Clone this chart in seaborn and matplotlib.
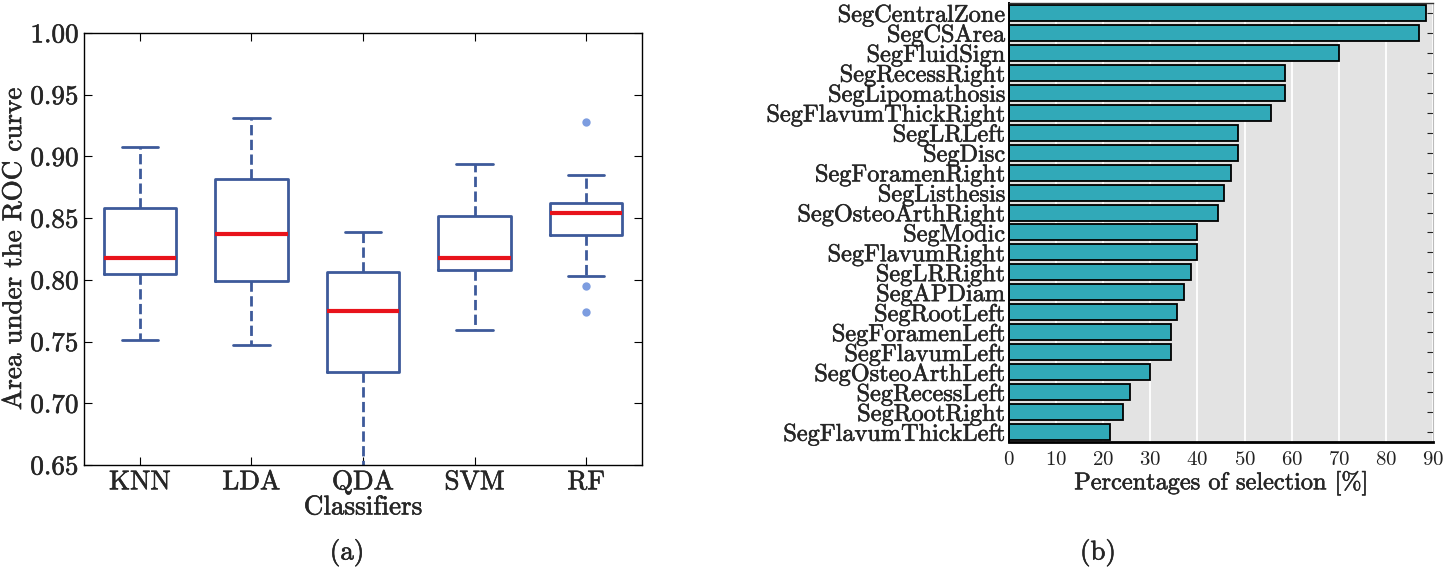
import matplotlib
matplotlib.use("Agg")
import matplotlib.pyplot as plt
import matplotlib.patheffects as pe
import seaborn as sns
import pandas as pd
import numpy as np

# ------------------------------------------------------------------
# (a) AUC values per classifier
# ------------------------------------------------------------------
classifiers = ["KNN", "LDA", "QDA", "SVM", "RF"]
knn_auc = [0.751, 0.780, 0.805, 0.812, 0.818, 0.835, 0.858, 0.880, 0.908]
lda_auc = [0.747, 0.775, 0.799, 0.820, 0.837, 0.860, 0.882, 0.905, 0.931]
qda_auc = [0.630, 0.690, 0.725, 0.750, 0.775, 0.790, 0.806, 0.820, 0.839]
svm_auc = [0.759, 0.785, 0.808, 0.812, 0.818, 0.835, 0.852, 0.870, 0.894]
rf_auc = [0.774, 0.795, 0.803, 0.836, 0.842, 0.848, 0.854, 0.857, 0.860,
          0.862, 0.870, 0.885, 0.928]

# ------------------------------------------------------------------
# (b) selection percentages per feature
# ------------------------------------------------------------------
features = ["SegCentralZone", "SegCSArea", "SegFluidSign", "SegRecessRight",
            "SegLipomathosis", "SegFlavumThickRight", "SegLRLeft", "SegDisc",
            "SegForamenRight", "SegListhesis", "SegOsteoArthRight", "SegModic",
            "SegFlavumRight", "SegLRRight", "SegAPDiam", "SegRootLeft",
            "SegForamenLeft", "SegFlavumLeft", "SegOsteoArthLeft",
            "SegRecessLeft", "SegRootRight", "SegFlavumThickLeft"]
selection_pct = [88.6, 87.1, 70.0, 58.6, 58.6, 55.7, 48.6, 48.6, 47.1, 45.7,
                 44.3, 40.0, 40.0, 38.6, 37.1, 35.7, 34.3, 34.3, 30.0, 25.7,
                 24.3, 21.4]

auc_df = pd.DataFrame({
    "clf": sum([[c] * len(v) for c, v in zip(classifiers, [knn_auc, lda_auc, qda_auc, svm_auc, rf_auc])], []),
    "auc": knn_auc + lda_auc + qda_auc + svm_auc + rf_auc,
})
sel_df = pd.DataFrame({"feature": features, "pct": selection_pct})

sns.set_style("white")
plt.rcParams["font.family"] = ["cmr10", "DejaVu Serif"]
plt.rcParams["axes.formatter.use_mathtext"] = True
plt.rcParams["mathtext.fontset"] = "cm"

fig = plt.figure(figsize=(14.44, 5.73), dpi=100)

# ==================================================================
# Left: box plot
# ==================================================================
box_col = "#3d5a9a"
ax1 = fig.add_axes([84 / 1444, 108 / 573, 558 / 1444, 432 / 573])
sns.boxplot(data=auc_df, x="clf", y="auc", order=classifiers, ax=ax1,
            fill=False, color=box_col, linecolor=box_col, width=0.65,
            linewidth=2.0,
            whiskerprops=dict(linestyle="--", color=box_col, linewidth=2.0),
            capprops=dict(color=box_col, linewidth=2.0),
            medianprops=dict(color="#e8131b", linewidth=3.0),
            flierprops=dict(marker="o", markerfacecolor="#7d9de0",
                            markeredgecolor="none", markersize=6))
ax1.set_ylim(0.65, 1.00)
ax1.set_xlim(-0.5, 4.5)
ax1.set_yticks(np.arange(0.65, 1.001, 0.05))
ax1.set_yticklabels([f"{v:.2f}" for v in np.arange(0.65, 1.001, 0.05)])
ax1.tick_params(axis="both", direction="in", top=True, right=True,
                left=True, bottom=True, length=6, width=0.8,
                labelsize=19.5, color="black")
ax1.tick_params(axis="y", pad=4)
ax1.tick_params(axis="x", pad=4)
for s in ax1.spines.values():
    s.set_color("black")
    s.set_linewidth(1.0)
    s.set_visible(True)
ax1.set_xlabel("Classifiers", fontsize=19.5, labelpad=1)
ax1.set_ylabel("Area under the ROC curve", fontsize=19.5, labelpad=3)

# ==================================================================
# Right: horizontal bars
# ==================================================================
ax2 = fig.add_axes([1009 / 1444, 131 / 573, 424 / 1444, 439 / 573])
sns.barplot(data=sel_df, x="pct", y="feature", order=features, ax=ax2,
            color="#31a9b8", saturation=1, edgecolor="black", linewidth=1.3,
            width=0.8)
ax2.set_facecolor("#e3e3e3")
ax2.set_xlim(0, 90)
ax2.set_xticks(np.arange(0, 91, 10))
ax2.grid(axis="x", color="white", linewidth=1.3)
ax2.grid(axis="y", visible=False)
ax2.set_axisbelow(True)
ax2.tick_params(axis="y", left=False, right=True, direction="in",
                length=4, width=0.8, color="#222222", labelsize=17.5, pad=3)
ax2.tick_params(axis="x", bottom=False, labelsize=15, pad=3,
                labelcolor="#222222")
ax2.spines["left"].set_color("black")
ax2.spines["left"].set_linewidth(1.4)
ax2.spines["bottom"].set_color("black")
ax2.spines["bottom"].set_linewidth(2.0)
ax2.spines["top"].set_color("#333333")
ax2.spines["top"].set_linewidth(1.0)
ax2.spines["right"].set_color("#bbbbbb")
ax2.spines["right"].set_linewidth(0.8)
for s in ax2.spines.values():
    s.set_visible(True)
ax2.set_ylabel("")
ax2.set_xlabel("Percentages of selection [%]", fontsize=17.5, labelpad=1)

# sub-figure captions
fig.text(347 / 1444, 1 - 553 / 573, "(a)", ha="center", va="center", fontsize=19.5)
fig.text(1098 / 1444, 1 - 553 / 573, "(b)", ha="center", va="center", fontsize=19.5)

# slightly heavier strokes, like the scaled LaTeX text in the reference
light = set(ax2.get_xticklabels())
for t in fig.findobj(matplotlib.text.Text):
    if t in light:
        continue
    t.set_path_effects([pe.withStroke(linewidth=0.4, foreground=t.get_color())])

fig.savefig("out.png", dpi=100)
